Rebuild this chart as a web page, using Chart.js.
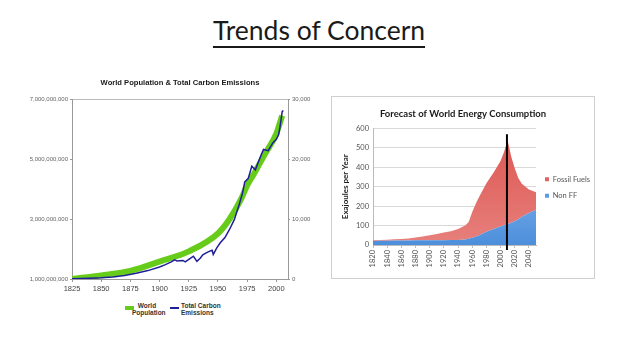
<!DOCTYPE html>
<html>
<head>
<meta charset="utf-8">
<title>Trends of Concern</title>
<script src="https://cdn.jsdelivr.net/npm/chart.js@4.4.1/dist/chart.umd.min.js"></script>
<style>
  html, body { margin: 0; padding: 0; background: #fff; }
  #slide { position: relative; width: 638px; height: 359px; overflow: hidden; }
  #heading {
    position: absolute; left: 0; top: 15px; width: 638px; text-align: center;
    font-family: Lato, "Open Sans", sans-serif; font-size: 26.5px; color: #1a1a1a; line-height: 30px;
  }
  #heading span { text-decoration: underline; text-decoration-thickness: 1.5px; text-underline-offset: 6px; }
  #popWrap { position: absolute; left: 30px; top: 70px; width: 300px; height: 227px; }
  #energyBox { position: absolute; left: 331px; top: 96px; width: 262px; height: 181px; border: 1px solid #cfcfcf; }
  .lg { position: absolute; font-family: "Liberation Sans Narrow", "Liberation Sans", sans-serif;
        font-weight: bold; font-size: 6.5px; line-height: 7px; color: #333; }
  .swatch { position: absolute; }
</style>
</head>
<body>
<div id="slide">
  <div id="heading"><span>Trends of Concern</span></div>

  <div id="popWrap"><canvas id="popChart" width="300" height="227"></canvas></div>
  <div class="swatch" style="left:125px;top:306px;width:9px;height:4px;background:#66cc19;"></div>
  <div class="lg" style="left:132px;top:302px;width:30px;text-align:center;">World<br>Population</div>
  <div class="swatch" style="left:170px;top:307px;width:9px;height:1.5px;background:#1f1f99;"></div>
  <div class="lg" style="left:181px;top:302px;">Total Carbon<br>Emissions</div>

  <div id="energyBox"><canvas id="energyChart" width="262" height="181"></canvas></div>
</div>

<script>
// ---- left chart: world population & total carbon emissions ----
var popYears = [1825, 1850, 1875, 1900, 1925, 1950, 1960, 1970, 1975, 1980, 1990, 2000, 2005];
var popValues = [1.00e9, 1.12e9, 1.27e9, 1.58e9, 1.92e9, 2.52e9, 3.00e9, 3.68e9, 4.12e9, 4.45e9, 5.15e9, 5.85e9, 6.45e9];

var carbonYears = [1825, 1840, 1850, 1860, 1870, 1880, 1890, 1900, 1905, 1910, 1913, 1915, 1917, 1920, 1922,
  1926, 1929, 1932, 1935, 1937, 1940, 1943, 1945, 1946, 1949, 1952, 1956, 1960, 1964, 1968, 1971, 1973,
  1976, 1979, 1982, 1986, 1989, 1993, 1997, 2000, 2002, 2003, 2004, 2005, 2006];
var carbonValues = [50, 120, 200, 330, 600, 950, 1400, 2000, 2400, 2850, 3200, 3000, 3050, 3100, 2850,
  3400, 3800, 2950, 3500, 4050, 4350, 4650, 4800, 4100, 5200, 6050, 6900, 8300, 9900, 12300, 14300, 16200,
  16800, 18800, 18200, 20200, 21600, 21400, 22700, 23300, 24100, 25200, 26500, 27900, 28100];

// ---- right chart: forecast of world energy consumption ----
var energyYears = [1820, 1830, 1840, 1850, 1860, 1870, 1880, 1890, 1900, 1910, 1920, 1930, 1940, 1950, 1955,
  1960, 1965, 1970, 1980, 1990, 2000, 2005, 2010, 2015, 2020, 2025, 2030, 2040, 2050];
var nonFossil = [21, 22, 22, 23, 23, 23, 24, 24, 24, 25, 25, 26, 26, 28, 32,
  37, 43, 50, 68, 82, 95, 101, 108, 115, 122, 133, 145, 165, 182];
var fossilFuels = [3, 4, 5, 6, 8, 11, 14, 20, 26, 32, 39, 45, 56, 72, 86,
  133, 169, 200, 250, 290, 337, 379, 430, 340, 273, 212, 170, 120, 90];
var forecastYear = 2009;

var narrow = '"Liberation Sans Narrow", "Liberation Sans", sans-serif';
var lato = 'Lato, "Open Sans", sans-serif';

function pairs(xs, ys) {
  return xs.map(function (x, i) { return { x: x, y: ys[i] }; });
}

new Chart(document.getElementById('popChart'), {
  type: 'line',
  data: {
    datasets: [
      {
        label: 'World Population',
        data: pairs(popYears, popValues),
        yAxisID: 'yPop',
        order: 2,
        borderColor: '#66cc19',
        borderWidth: 6,
        pointRadius: 0,
        cubicInterpolationMode: 'monotone'
      },
      {
        label: 'Total Carbon Emissions',
        data: pairs(carbonYears, carbonValues),
        yAxisID: 'yCarbon',
        order: 1,
        borderColor: '#1f1f99',
        borderWidth: 1.5,
        pointRadius: 0,
        tension: 0
      }
    ]
  },
  options: {
    responsive: false,
    animation: false,
    plugins: {
      legend: { display: false },
      tooltip: { enabled: false },
      title: {
        display: true,
        text: 'World Population & Total Carbon Emissions',
        color: '#1a1a1a',
        font: { family: narrow, size: 7.6, weight: 'bold' },
        padding: { top: 8, bottom: 12 }
      }
    },
    scales: {
      x: {
        type: 'linear', min: 1825, max: 2010,
        ticks: { stepSize: 25, includeBounds: false, maxRotation: 0, padding: 2, color: '#444',
                 font: { family: narrow, size: 7.5 }, callback: function (v) { return String(v); } },
        grid: { drawOnChartArea: false, tickLength: 3, color: '#999' },
        border: { color: '#999' },
        afterFit: function (s) { s.height = 18; }
      },
      // frame line along the top of the plot
      xTop: {
        type: 'linear', position: 'top', min: 1825, max: 2010,
        ticks: { display: false },
        grid: { drawOnChartArea: false, drawTicks: false },
        border: { color: '#bbb' },
        afterFit: function (s) { s.height = 0; }
      },
      yPop: {
        position: 'left', min: 1e9, max: 7e9,
        ticks: { stepSize: 2e9, color: '#666', padding: 2, font: { family: narrow, size: 6 },
                 callback: function (v) { return v.toLocaleString('en-US'); } },
        grid: { drawOnChartArea: false, tickLength: 2, color: '#999' },
        border: { color: '#999' },
        afterFit: function (s) { s.width = 42; }
      },
      yCarbon: {
        position: 'right', min: 0, max: 30000,
        ticks: { stepSize: 10000, color: '#666', padding: 2, font: { family: narrow, size: 6 },
                 callback: function (v) { return v.toLocaleString('en-US'); } },
        grid: { drawOnChartArea: false, tickLength: 2, color: '#999' },
        border: { color: '#999' },
        afterFit: function (s) { s.width = 42; }
      }
    }
  }
});

var solidFill = { 'Non FF': '#5b9be3', 'Fossil Fuels': '#e06464' };

function areaGradient(top, bottom) {
  return function (context) {
    var area = context.chart.chartArea;
    if (!area) return top;
    var g = context.chart.ctx.createLinearGradient(0, area.top, 0, area.bottom);
    g.addColorStop(0, top);
    g.addColorStop(1, bottom);
    return g;
  };
}

var forecastLine = {
  id: 'forecastLine',
  afterDatasetsDraw: function (chart) {
    var x = chart.scales.x.getPixelForValue(forecastYear);
    var y0 = chart.scales.y.getPixelForValue(570);
    var y1 = chart.scales.y.getPixelForValue(0) + 5;
    var ctx = chart.ctx;
    ctx.save();
    ctx.strokeStyle = '#000';
    ctx.lineWidth = 2;
    ctx.beginPath();
    ctx.moveTo(x, y0);
    ctx.lineTo(x, y1);
    ctx.stroke();
    ctx.restore();
  }
};

new Chart(document.getElementById('energyChart'), {
  type: 'line',
  data: {
    datasets: [
      {
        label: 'Non FF',
        data: pairs(energyYears, nonFossil),
        fill: 'origin',
        backgroundColor: areaGradient('#9cc6f2', '#4d8fdc'),
        borderWidth: 0,
        pointRadius: 0
      },
      {
        label: 'Fossil Fuels',
        data: pairs(energyYears, fossilFuels),
        fill: '-1',
        backgroundColor: areaGradient('#dc5450', '#e7807c'),
        borderWidth: 0,
        pointRadius: 0
      }
    ]
  },
  options: {
    responsive: false,
    animation: false,
    plugins: {
      tooltip: { enabled: false },
      title: {
        display: true,
        text: 'Forecast of World Energy Consumption',
        color: '#1a1a1a',
        font: { family: lato, size: 9.5, weight: 'bold' },
        padding: { top: 11, bottom: 9 }
      },
      legend: {
        position: 'right',
        reverse: true,
        maxWidth: 58,
        labels: {
          boxWidth: 4, boxHeight: 4, padding: 9, color: '#555',
          font: { family: lato, size: 7.5 },
          generateLabels: function (chart) {
            var items = Chart.defaults.plugins.legend.labels.generateLabels(chart);
            items.forEach(function (it) {
              it.fillStyle = solidFill[it.text];
              it.strokeStyle = solidFill[it.text];
              it.lineWidth = 0;
            });
            return items;
          }
        }
      }
    },
    scales: {
      x: {
        type: 'linear', min: 1820, max: 2050,
        ticks: { stepSize: 20, includeBounds: false, minRotation: 90, maxRotation: 90, padding: 2,
                 color: '#555', font: { family: lato, size: 7.5 },
                 callback: function (v) { return String(v); } },
        grid: { drawOnChartArea: false, tickLength: 3, color: '#bbb' },
        border: { color: '#bbb' },
        afterFit: function (s) { s.height = 33; }
      },
      y: {
        stacked: true, min: 0, max: 600,
        ticks: { stepSize: 100, padding: 4, color: '#555', font: { family: lato, size: 7.5 } },
        grid: { color: '#d9d9d9', drawTicks: false },
        border: { color: '#bbb' },
        title: { display: true, text: 'Exajoules per Year', color: '#1a1a1a',
                 font: { family: lato, size: 8, weight: 'bold' }, padding: { top: 9, bottom: 0 } },
        afterFit: function (s) { s.width = 41; }
      }
    }
  },
  plugins: [forecastLine]
});
</script>
</body>
</html>
